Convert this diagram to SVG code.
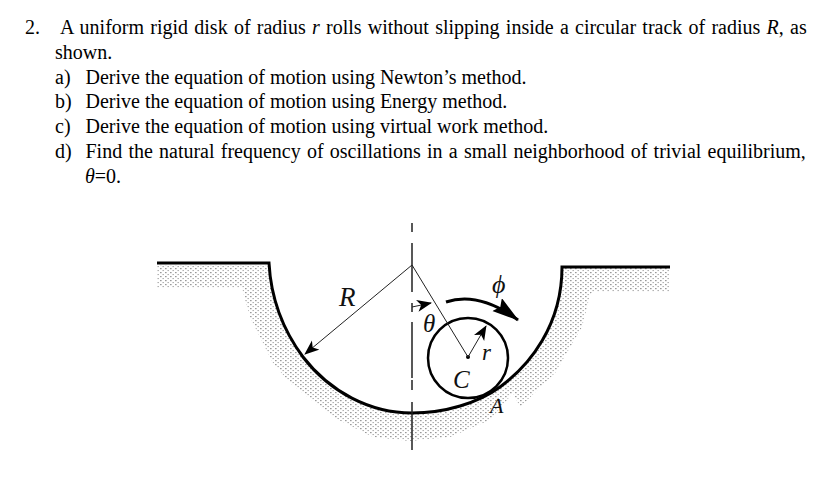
<svg xmlns="http://www.w3.org/2000/svg" width="832" height="497" viewBox="0 0 832 497">
<style>
.t{font-family:"Liberation Serif","Times New Roman",serif;font-size:20px;fill:#000}
.i{font-family:"Liberation Serif","Times New Roman",serif;font-style:italic;fill:#111}
.thick{fill:none;stroke:#000;stroke-width:3}
.thin{fill:none;stroke:#222;stroke-width:1}
</style>
<defs>
<pattern id="dots" width="5" height="4" patternUnits="userSpaceOnUse">
<rect x="0" y="0" width="1.6" height="1.2" fill="#999"/>
<rect x="2.5" y="2" width="1.4" height="1.1" fill="#aaa"/>
</pattern>
<marker id="small" markerWidth="16" markerHeight="14" refX="14" refY="6" orient="auto" markerUnits="userSpaceOnUse">
<path d="M0 0L15 6L0 12L4 6Z" fill="#000"/>
</marker>
<marker id="big" markerWidth="28" markerHeight="20" refX="26" refY="8" orient="auto" markerUnits="userSpaceOnUse">
<path d="M0 0L27 8L0 16L4 8Z" fill="#000"/>
</marker>
</defs>
<rect width="832" height="497" fill="#fff"/>
<g id="problem-text">
<text class="t" x="25" y="34">2.</text>
<text class="t" x="60" y="34" word-spacing="1.25">A uniform rigid disk of radius <tspan font-style="italic">r</tspan> rolls without slipping inside a circular track of radius <tspan font-style="italic">R</tspan>, as</text>
<text class="t" x="55" y="58.5">shown.</text>
<text class="t" x="55" y="83.5">a)</text><text class="t" x="85.5" y="83.5">Derive the equation of motion using Newton’s method.</text>
<text class="t" x="55" y="108">b)</text><text class="t" x="85.5" y="108">Derive the equation of motion using Energy method.</text>
<text class="t" x="55" y="133">c)</text><text class="t" x="85.5" y="133">Derive the equation of motion using virtual work method.</text>
<text class="t" x="55" y="158">d)</text><text class="t" x="85.5" y="158" word-spacing="1.2">Find the natural frequency of oscillations in a small neighborhood of trivial equilibrium,</text>
<text class="t" x="85" y="183"><tspan font-style="italic">θ</tspan>=0.</text>
</g>
<g id="ground">
<path d="M157 265H269C271 300 283 330 303 357C330 392 370 413 412 413C445 413 478 403 500 387C530 365 562 325 562 268H670V292H592L590 295L582 327L555 373L520 407L513 393L490 420L450 437L410 441L373 437L333 417L290 383L273 363L250 317L242 288H157Z" fill="url(#dots)"/>
</g>
<g id="track">
<path class="thick" d="M157 263H269C271 300 283 330 303 357C330 392 370 413 412 413C445 413 478 403 500 387C530 365 562 325 562 267H670"/>
</g>
<g id="disk">
<circle cx="468" cy="358" r="40" fill="none" stroke="#000" stroke-width="2.5"/>
<circle cx="468" cy="357" r="2" fill="#000"/>
</g>
<g id="connectors">
<path d="M412 223V232M412 243V292M412 303V312M412 322V378M412 380V390M412 402V450" fill="none" stroke="#222" stroke-width="1.5"/>
<path class="thin" d="M412 265L305 354" marker-end="url(#small)"/>
<path class="thin" d="M412 265L468 357"/>
<path class="thin" d="M468 357L486 326" marker-end="url(#small)"/>
<path class="thin" d="M412 307L431 303" marker-end="url(#small)"/>
<path d="M446 302C470 294 495 303 518 320" fill="none" stroke="#000" stroke-width="3" marker-end="url(#big)"/>
</g>
<g id="labels">
<text class="i" x="339" y="306" font-size="27">R</text>
<text class="i" x="423" y="332" font-size="25">θ</text>
<text class="i" x="492" y="293" font-size="26">ϕ</text>
<text class="i" x="482" y="360" font-size="23">r</text>
<text class="i" x="453" y="388" font-size="25">C</text>
<text class="i" x="490" y="413" font-size="22">A</text>
</g>
</svg>
